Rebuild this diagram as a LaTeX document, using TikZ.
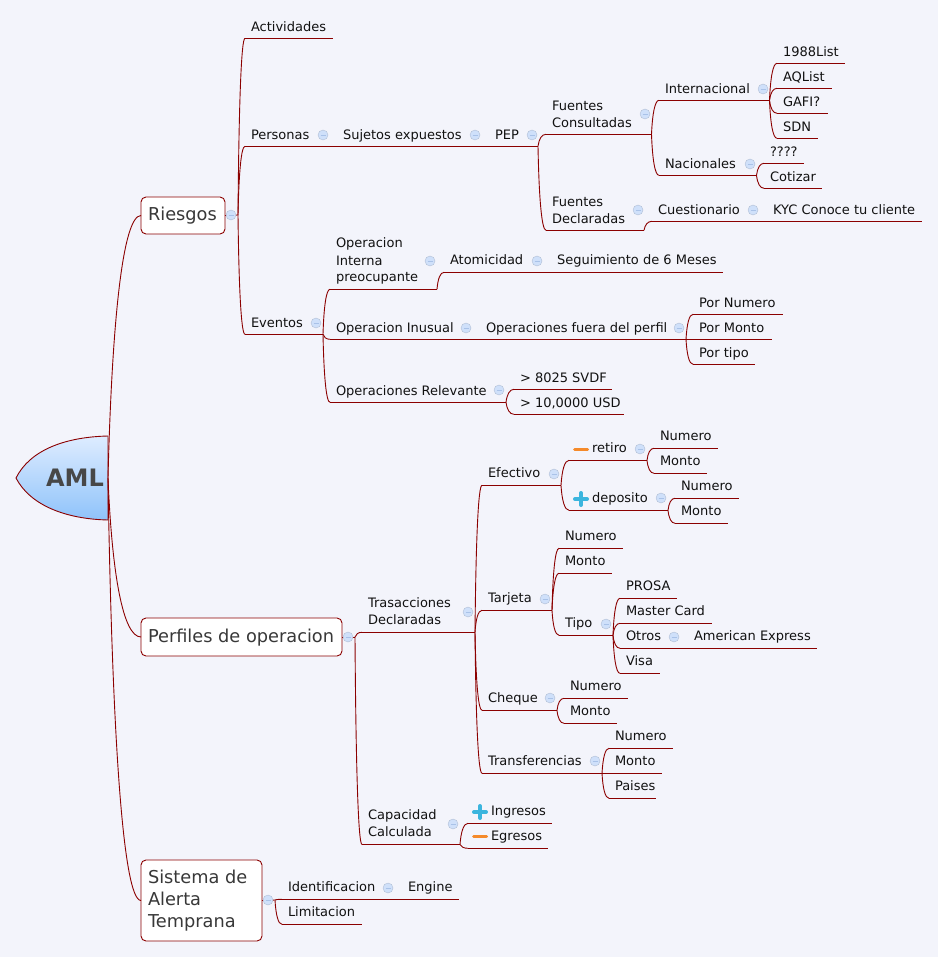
\documentclass[tikz,border=0pt]{standalone}
\usepackage{fontspec}
\setmainfont{DejaVu Sans}
\usetikzlibrary{calc}
\definecolor{bgc}{HTML}{F3F4FB}
\definecolor{linec}{HTML}{8B0000}
\definecolor{circf}{HTML}{CFE0FA}
\definecolor{circd}{HTML}{A9C2E8}
\definecolor{txt}{HTML}{111111}
\tikzset{
  ln/.style={draw=linec,line width=0.9pt},
  tp/.style={anchor=south west,inner xsep=6pt,inner ysep=0pt,outer sep=0pt,text=txt,
    font=\fontsize{13}{17}\selectfont},
  bigbox/.style={draw=linec,fill=white,line width=0.9pt,rounded corners=5pt,inner xsep=7pt,inner ysep=0pt,outer sep=0pt,text=black!78,
    font=\fontsize{17.75}{22}\selectfont},
  coll/.style={circle,fill=circf,draw=circf!85!black,line width=0.4pt,minimum size=10pt,inner sep=0pt},
}
\newcommand{\tp}[5]{%
  \pgfmathsetmacro{\tw}{#3-#2-12}%
  \pgfmathsetmacro{\td}{#4<240?6.5:(#4<420?7.3:8.1)}%
  \node[tp,text depth=\td pt] (#1) at (#2,#4) {\makebox[\tw pt][l]{\begin{tabular}[b]{@{}l@{}}#5\end{tabular}}};
  \draw[ln] (#1.south west) -- (#1.south east);}
\newcommand{\bx}[6]{%
  \pgfmathsetmacro{\tw}{#3-#2-14}%
  \pgfmathsetmacro{\th}{#5-#4}%
  \node[bigbox,minimum height=\th pt] (#1) at ({(#2+#3)/2},{(#4+#5)/2}) {\makebox[\tw pt][l]{\raisebox{-5.3pt}[0pt][0pt]{\begin{tabular}[c]{@{}l@{}}#6\end{tabular}}}};}
\newcommand{\conn}[2]{\draw[ln] let \p1=(#1),\p2=(#2) in (\p1) .. controls ({\x1+0.12*(\x2-\x1)},{\y1+0.6*(\y2-\y1)}) and ({\x1+0.45*(\x2-\x1)},\y2) .. (\p2);}
\newcommand{\cl}[3]{\node[coll] (#1) at (#2,#3) {}; \draw[circd,line width=0.7pt] ($(#1.center)+(-2.5,0)$) -- ($(#1.center)+(2.5,0)$);}
\newcommand{\plusicon}[2]{\draw[color={rgb,255:red,59;green,181;blue,222},line width=4pt,line cap=round] (#1-6,#2) -- (#1+6,#2) (#1,#2-6) -- (#1,#2+6);}
\newcommand{\minusicon}[2]{\draw[color={rgb,255:red,245;green,138;blue,42},line width=3pt,line cap=round] (#1-6.5,#2) -- (#1+6.5,#2);}
\begin{document}
\begin{tikzpicture}[x=1pt,y=-1pt]
\useasboundingbox (0,0) rectangle (938,957);
\fill[bgc] (0,0) rectangle (938,957);
% central topic
\draw[draw=linec,line width=0.9pt,top color={rgb,255:red,222;green,236;blue,255},bottom color={rgb,255:red,143;green,195;blue,250}]
  (108,436) .. controls (65,437) and (30,450) .. (16,478) .. controls (30,505) and (65,519) .. (108,520) -- cycle;
\node[font=\fontsize{24}{30}\selectfont\bfseries,text=black!72,inner sep=0pt] (aml) at (75,478) {AML};
\coordinate (amlj) at (108,478);
% main boxes
\bx{riesgos}{141}{225}{197}{234}{Riesgos}
\bx{perfiles}{141}{342}{618}{656}{Perfiles de operacion}
\bx{sistema}{141}{262}{860}{941}{Sistema de\\Alerta\\Temprana}
\coordinate (riesgosj) at (238,215);
\coordinate (perfilesj) at (355,637);
\coordinate (sistemaj) at (275,900);
\conn{amlj}{riesgos.west}
\conn{amlj}{perfiles.west}
\conn{amlj}{sistema.west}
\draw[ln] (riesgos.east) -- (riesgosj);
\draw[ln] (perfiles.east) -- (perfilesj);
\draw[ln] (sistema.east) -- (sistemaj);
% Riesgos
\tp{actividades}{245}{333}{38.3}{Actividades}
\tp{personas}{245}{339}{146.3}{Personas}
\tp{sujetos}{337}{489}{146.3}{Sujetos expuestos}
\tp{pep}{489}{538}{146.3}{PEP}
\tp{consultadas}{546}{651.5}{134.3}{Fuentes\\Consultadas}
\tp{internacional}{659}{769.5}{100.3}{Internacional}
\tp{list}{777}{845}{63.3}{1988List}
\tp{aqlist}{777}{832}{88.3}{AQList}
\tp{gafi}{777}{828}{113.3}{GAFI?}
\tp{sdn}{777}{818}{138.3}{SDN}
\tp{nacionales}{659}{756.5}{175.3}{Nacionales}
\tp{qqqq}{764}{804}{163.3}{????}
\tp{cotizar}{764}{822}{188.3}{Cotizar}
\tp{declaradas}{546}{644}{230.3}{Fuentes\\Declaradas}
\tp{cuestionario}{652}{767}{221.3}{Cuestionario}
\tp{kyc}{767}{922}{221.3}{KYC Conoce tu cliente}
\tp{eventos}{245}{323}{334.3}{Eventos}
\tp{interna}{330}{437}{289.3}{Operacion\\Interna\\preocupante}
\tp{atomicidad}{444}{551}{272.3}{Atomicidad}
\tp{seguimiento}{551}{723}{272.3}{Seguimiento de 6 Meses}
\tp{inusual}{330}{480}{339.3}{Operacion Inusual}
\tp{fuera}{480}{686}{339.3}{Operaciones fuera del perfil}
\tp{pornumero}{693}{783}{314.3}{Por Numero}
\tp{pormonto}{693}{772}{339.3}{Por Monto}
\tp{portipo}{693}{755}{364.3}{Por tipo}
\tp{relevante}{330}{506}{402.3}{Operaciones Relevante}
\tp{svdf}{514}{612}{389.3}{> 8025 SVDF}
\tp{usd}{514}{624}{414.3}{> 10,0000 USD}
% Perfiles
\tp{trasacciones}{362}{475}{632.3}{Trasacciones\\Declaradas}
\tp{efectivo}{482}{561}{485.3}{Efectivo}
\tp{retiro}{569}{647}{460.3}{\hspace{17pt}retiro}
\tp{renum}{654}{718}{448.3}{Numero}
\tp{remon}{654}{707}{473.3}{Monto}
\tp{deposito}{569}{668}{510.3}{\hspace{17pt}deposito}
\tp{denum}{675}{739}{498.3}{Numero}
\tp{demon}{675}{728}{523.3}{Monto}
\tp{tarjeta}{482}{552}{610.3}{Tarjeta}
\tp{tanum}{559}{623}{548.3}{Numero}
\tp{tamon}{559}{612}{573.3}{Monto}
\tp{tipo}{559}{613}{635.3}{Tipo}
\tp{prosa}{620}{677}{598.3}{PROSA}
\tp{master}{620}{712}{623.3}{Master Card}
\tp{otros}{620}{688}{648.3}{Otros}
\tp{amex}{688}{817}{648.3}{American Express}
\tp{visa}{620}{660}{673.3}{Visa}
\tp{cheque}{482}{557}{710.3}{Cheque}
\tp{chnum}{564}{628}{698.3}{Numero}
\tp{chmon}{564}{617}{723.3}{Monto}
\tp{transf}{482}{602}{773.3}{Transferencias}
\tp{trnum}{609}{673}{748.3}{Numero}
\tp{trmon}{609}{662}{773.3}{Monto}
\tp{paises}{609}{656}{798.3}{Paises}
\tp{capacidad}{362}{460}{844.5}{Capacidad\\Calculada}
\tp{ingresos}{468}{552}{823.3}{\hspace{17pt}Ingresos}
\tp{egresos}{468}{548}{848.3}{\hspace{17pt}Egresos}
% Sistema
\tp{identificacion}{282}{402}{899.3}{Identificacion}
\tp{engine}{402}{459}{899.3}{Engine}
\tp{limitacion}{282}{362}{924.3}{Limitacion}
% connectors
\conn{riesgosj}{actividades.south west}
\conn{riesgosj}{personas.south west}
\conn{riesgosj}{eventos.south west}
\draw[ln] (personas.south east) -- (sujetos.south west);
\draw[ln] (sujetos.south east) -- (pep.south west);
\conn{pep.south east}{consultadas.south west}
\conn{pep.south east}{declaradas.south west}
\conn{consultadas.south east}{internacional.south west}
\conn{consultadas.south east}{nacionales.south west}
\conn{internacional.south east}{list.south west}
\conn{internacional.south east}{aqlist.south west}
\conn{internacional.south east}{gafi.south west}
\conn{internacional.south east}{sdn.south west}
\conn{nacionales.south east}{qqqq.south west}
\conn{nacionales.south east}{cotizar.south west}
\conn{declaradas.south east}{cuestionario.south west}
\draw[ln] (cuestionario.south east) -- (kyc.south west);
\conn{eventos.south east}{interna.south west}
\conn{eventos.south east}{inusual.south west}
\conn{eventos.south east}{relevante.south west}
\conn{interna.south east}{atomicidad.south west}
\draw[ln] (atomicidad.south east) -- (seguimiento.south west);
\draw[ln] (inusual.south east) -- (fuera.south west);
\conn{fuera.south east}{pornumero.south west}
\draw[ln] (fuera.south east) -- (pormonto.south west);
\conn{fuera.south east}{portipo.south west}
\conn{relevante.south east}{svdf.south west}
\conn{relevante.south east}{usd.south west}
\conn{perfilesj}{trasacciones.south west}
\conn{perfilesj}{capacidad.south west}
\conn{trasacciones.south east}{efectivo.south west}
\conn{trasacciones.south east}{tarjeta.south west}
\conn{trasacciones.south east}{cheque.south west}
\conn{trasacciones.south east}{transf.south west}
\conn{efectivo.south east}{retiro.south west}
\conn{efectivo.south east}{deposito.south west}
\conn{retiro.south east}{renum.south west}
\conn{retiro.south east}{remon.south west}
\conn{deposito.south east}{denum.south west}
\conn{deposito.south east}{demon.south west}
\conn{tarjeta.south east}{tanum.south west}
\conn{tarjeta.south east}{tamon.south west}
\conn{tarjeta.south east}{tipo.south west}
\conn{tipo.south east}{prosa.south west}
\conn{tipo.south east}{master.south west}
\conn{tipo.south east}{otros.south west}
\conn{tipo.south east}{visa.south west}
\draw[ln] (otros.south east) -- (amex.south west);
\conn{cheque.south east}{chnum.south west}
\conn{cheque.south east}{chmon.south west}
\conn{transf.south east}{trnum.south west}
\draw[ln] (transf.south east) -- (trmon.south west);
\conn{transf.south east}{paises.south west}
\conn{capacidad.south east}{ingresos.south west}
\conn{capacidad.south east}{egresos.south west}
\conn{sistemaj}{identificacion.south west}
\draw[ln] (identificacion.south east) -- (engine.south west);
\conn{sistemaj}{limitacion.south west}
% collapse markers
\cl{c1}{231}{215}
\cl{c2}{323}{135}
\cl{c3}{475}{135}
\cl{c4}{532}{135}
\cl{c5}{645}{114}
\cl{c6}{763}{89}
\cl{c7}{750}{164}
\cl{c8}{638}{210}
\cl{c9}{753}{210}
\cl{c10}{316}{323}
\cl{c11}{430}{261}
\cl{c12}{537}{261}
\cl{c13}{466}{328}
\cl{c14}{679}{328}
\cl{c15}{499}{390}
\cl{c16}{348}{637}
\cl{c17}{468}{612}
\cl{c18}{554}{474}
\cl{c19}{640}{449}
\cl{c20}{661}{498}
\cl{c21}{545}{599}
\cl{c22}{606}{624}
\cl{c23}{674}{637}
\cl{c24}{550}{698}
\cl{c25}{595}{761}
\cl{c26}{453}{824}
\cl{c27}{268}{900}
\cl{c28}{388}{888}
% icons
\minusicon{581}{449}
\plusicon{581}{499}
\plusicon{480}{812}
\minusicon{480}{836}
\end{tikzpicture}
\end{document}
